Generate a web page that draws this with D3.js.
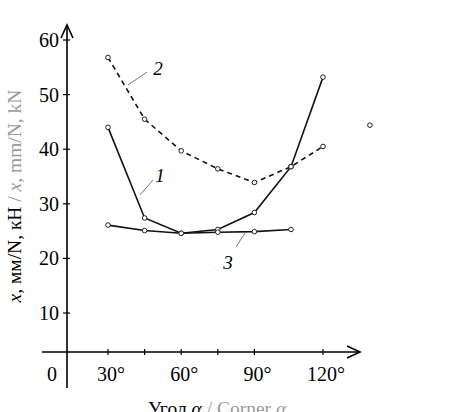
<!DOCTYPE html>
<html>
<head>
<meta charset="utf-8">
<script src="https://cdn.jsdelivr.net/npm/d3@7"></script>
<style>
  body { margin: 0; background: #fff; }
  svg { display: block; font-family: "Liberation Serif", "Times New Roman", serif; }
</style>
</head>
<body>
<svg id="chart" width="474" height="412"></svg>
<script>
// angle values (degrees)
const angles = [30, 45, 60, 75, 90, 105, 120];
// curve 1 (solid)
const curve1 = [44.0, 27.4, 24.6, 25.3, 28.4, 36.8, 53.2];
// curve 2 (dashed)
const curve2 = [56.8, 45.5, 39.7, 36.4, 33.9, 36.8, 40.5];
// curve 3 (solid, flat) - no value at 120
const curve3Angles = [30, 45, 60, 75, 90, 105];
const curve3 = [26.1, 25.1, 24.6, 24.8, 24.9, 25.3];
// stray marker to the right of the plot
const strayPoint = [142, 44.4];

const yTicks = [10, 20, 30, 40, 50, 60];
const xTickLabels = [30, 60, 90, 120];
const xTicks = [30, 45, 60, 75, 90, 120];

const svg = d3.select("#chart");

// x scale has a slightly compressed last step, as in the original drawing
const x = d3.scaleLinear().domain([30, 105, 120]).range([108, 291, 323]);
const y = d3.scaleLinear().domain([0, 60]).range([367.6, 40]);

const axisX = 67;        // pixel x of the vertical axis
const baseVal = 2.85;    // value where the horizontal axis sits
const baseY = y(baseVal);

// vertical axis with arrow
svg.append("line")
  .attr("x1", axisX).attr("x2", axisX)
  .attr("y1", 388).attr("y2", 26)
  .attr("stroke", "#000").attr("stroke-width", 1.6);
svg.append("path")
  .attr("d", `M${axisX - 6},${38} L${axisX},${25} L${axisX + 6},${38}`)
  .attr("fill", "none").attr("stroke", "#000").attr("stroke-width", 1.6);

// horizontal axis with arrow
svg.append("line")
  .attr("x1", 42).attr("x2", 360)
  .attr("y1", baseY).attr("y2", baseY)
  .attr("stroke", "#000").attr("stroke-width", 1.6);
svg.append("path")
  .attr("d", `M${347},${baseY - 6} L${360},${baseY} L${347},${baseY + 6}`)
  .attr("fill", "none").attr("stroke", "#000").attr("stroke-width", 1.6);

// y ticks + labels
svg.selectAll(".ytick")
  .data(yTicks)
  .join("line")
  .attr("class", "ytick")
  .attr("x1", axisX - 4).attr("x2", axisX + 3)
  .attr("y1", d => y(d)).attr("y2", d => y(d))
  .attr("stroke", "#000").attr("stroke-width", 1.2);

svg.selectAll(".ylab")
  .data(yTicks)
  .join("text")
  .attr("class", "ylab")
  .attr("x", 59)
  .attr("y", d => y(d))
  .attr("dy", "0.35em")
  .attr("text-anchor", "end")
  .attr("font-size", 20)
  .text(d => d);

svg.append("text")
  .attr("x", 52).attr("y", 374)
  .attr("dy", "0.35em")
  .attr("text-anchor", "middle")
  .attr("font-size", 20)
  .text("0");

// x ticks + labels
svg.selectAll(".xtick")
  .data(xTicks)
  .join("line")
  .attr("class", "xtick")
  .attr("x1", d => x(d)).attr("x2", d => x(d))
  .attr("y1", baseY - 3).attr("y2", baseY + 3)
  .attr("stroke", "#000").attr("stroke-width", 1.2);

svg.selectAll(".xlab")
  .data(xTickLabels)
  .join("text")
  .attr("class", "xlab")
  .attr("x", d => x(d) + 3)
  .attr("y", 374)
  .attr("dy", "0.35em")
  .attr("text-anchor", "middle")
  .attr("font-size", 20)
  .text(d => d + "°");

// axis titles
const yTitle = svg.append("text")
  .attr("transform", "translate(21,196) rotate(-90)")
  .attr("text-anchor", "middle")
  .attr("font-size", 19.5);
yTitle.append("tspan").attr("font-style", "italic").text("x");
yTitle.append("tspan").text(", мм/N, кН");
yTitle.append("tspan").attr("fill", "#9a9a9a").text(" / ");
yTitle.append("tspan").attr("fill", "#9a9a9a").attr("font-style", "italic").text("x");
yTitle.append("tspan").attr("fill", "#9a9a9a").text(", mm/N, kN");

const xTitle = svg.append("text")
  .attr("x", 217).attr("y", 415)
  .attr("text-anchor", "middle")
  .attr("font-size", 19.5);
xTitle.append("tspan").text("Угол ");
xTitle.append("tspan").attr("font-style", "italic").text("α");
xTitle.append("tspan").attr("fill", "#9a9a9a").text(" / Corner ");
xTitle.append("tspan").attr("fill", "#9a9a9a").attr("font-style", "italic").text("α");

// curves
const line = d3.line().x(d => x(d[0])).y(d => y(d[1]));
const series = [
  { pts: d3.zip(angles, curve1), dash: null },
  { pts: d3.zip(angles, curve2), dash: "5,4" },
  { pts: d3.zip(curve3Angles, curve3), dash: null }
];

series.forEach(s => {
  svg.append("path")
    .datum(s.pts)
    .attr("d", line)
    .attr("fill", "none")
    .attr("stroke", "#111")
    .attr("stroke-width", 1.6)
    .attr("stroke-dasharray", s.dash);
});

const allPts = series.flatMap(s => s.pts).concat([strayPoint]);
svg.selectAll(".pt")
  .data(allPts)
  .join("circle")
  .attr("class", "pt")
  .attr("cx", d => x(d[0]))
  .attr("cy", d => y(d[1]))
  .attr("r", 2.3)
  .attr("fill", "#fff")
  .attr("stroke", "#222")
  .attr("stroke-width", 1);

// curve labels with leader lines
const labels = [
  { t: "2", lx: 158, ly: 68, l: [128, 85, 147, 72] },
  { t: "1", lx: 160, ly: 175, l: [140, 195, 153, 180] },
  { t: "3", lx: 228, ly: 262, l: [236, 247, 245, 233] }
];
labels.forEach(d => {
  svg.append("line")
    .attr("x1", d.l[0]).attr("y1", d.l[1])
    .attr("x2", d.l[2]).attr("y2", d.l[3])
    .attr("stroke", "#777").attr("stroke-width", 1);
  svg.append("text")
    .attr("x", d.lx).attr("y", d.ly)
    .attr("dy", "0.35em")
    .attr("text-anchor", "middle")
    .attr("font-size", 19)
    .attr("font-style", "italic")
    .text(d.t);
});
</script>
</body>
</html>
